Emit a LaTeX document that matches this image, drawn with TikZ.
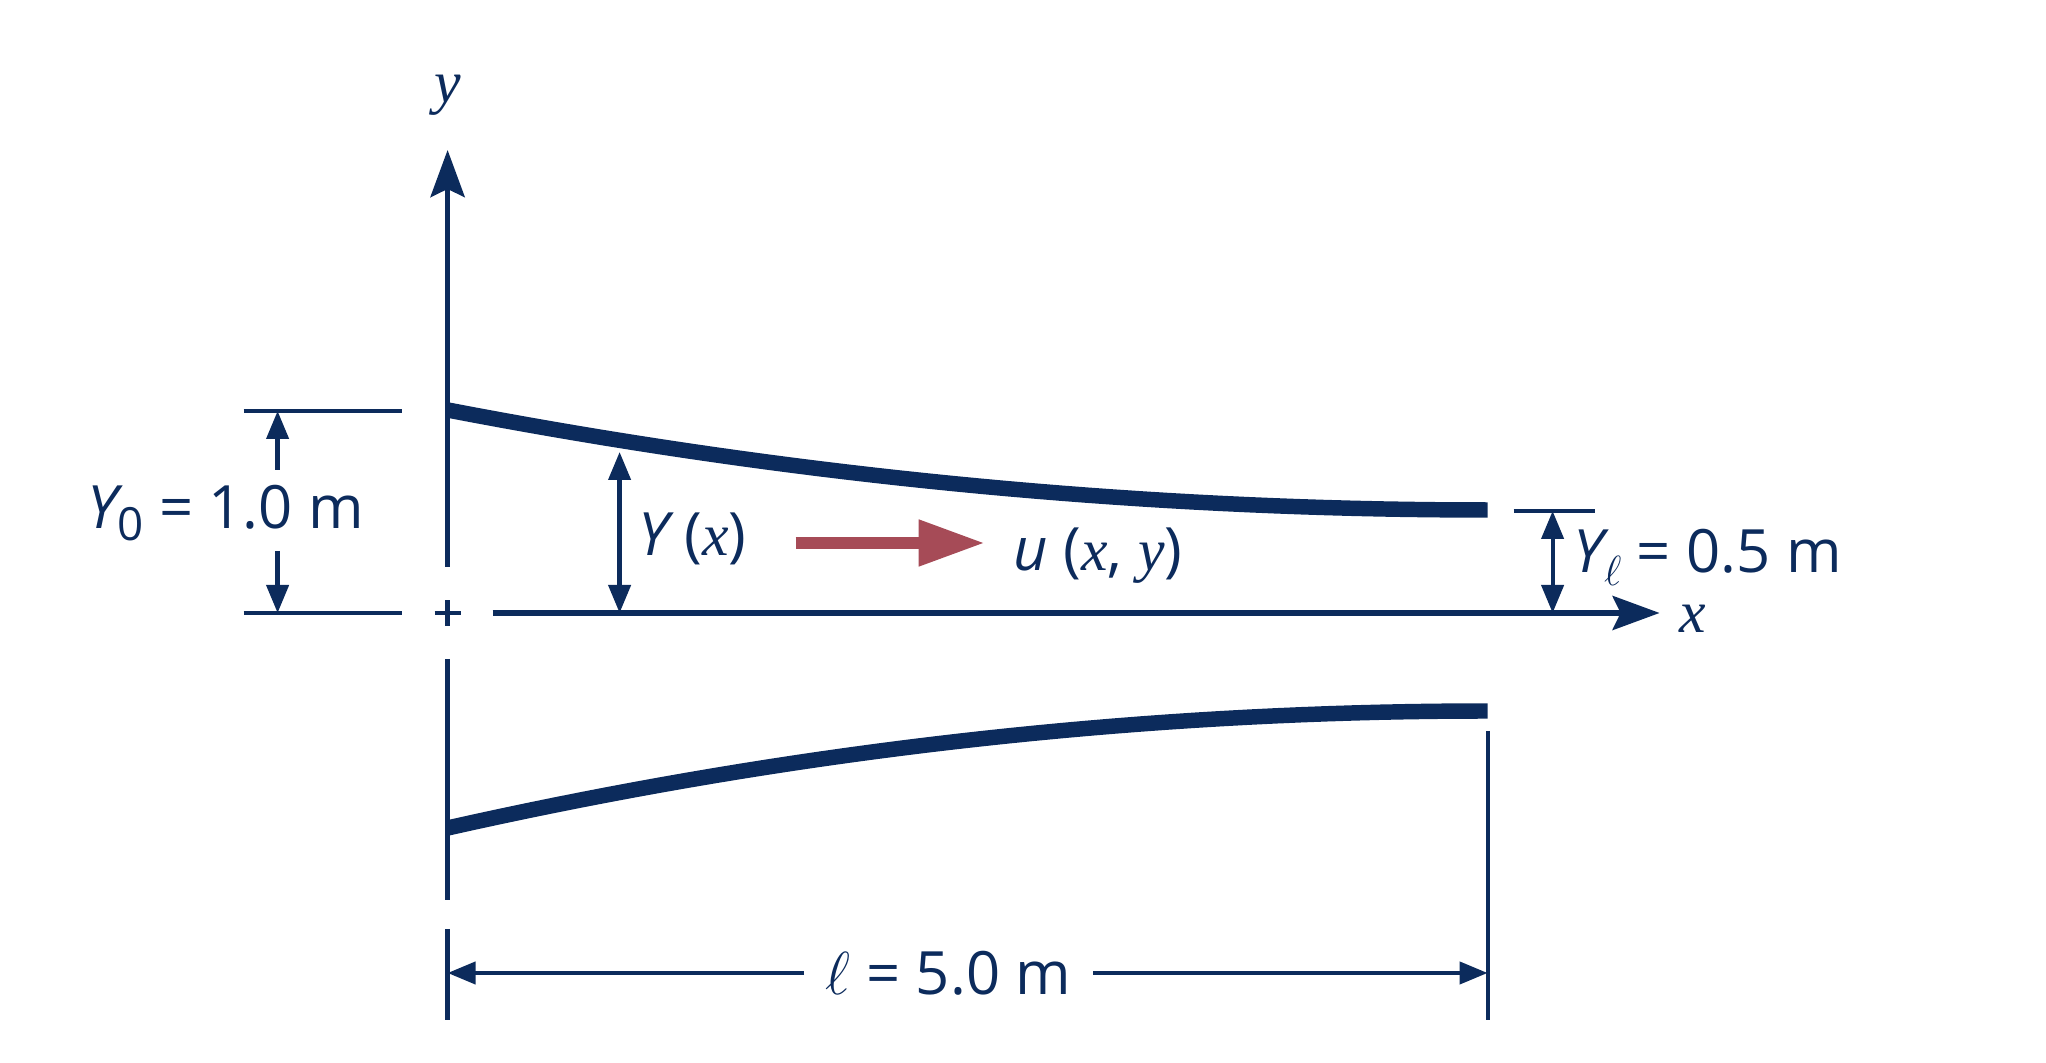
\documentclass[tikz,border=0pt]{standalone}
\usepackage{fontspec}
\setmainfont{Open Sans}
\newfontfamily\varfont{Liberation Serif}
\usetikzlibrary{arrows.meta}
\definecolor{navy}{HTML}{0C2B5C}
\definecolor{flowred}{HTML}{A64B57}
\newcommand{\vx}{{\varfont\itshape x}}
\newcommand{\vy}{{\varfont\itshape y}}
\newcommand{\lowidx}[1]{\raisebox{-0.4ex}{\fontsize{13}{14}\selectfont #1}}
\tikzset{
    dimtip/.tip={Triangle[length=2.8mm,width=2.2mm]},
    axistip/.tip={Stealth[length=4.7mm,width=3.4mm,inset=0.8mm]},
}
\begin{document}
\begin{tikzpicture}[
        every node/.style={text=navy, font=\fontsize{17}{20}\selectfont, inner sep=1pt},
        axis/.style={draw=navy, line width=1.6pt},
        wall/.style={draw=navy, line width=4.4pt},
        dimline/.style={draw=navy, line width=1.2pt},
        thinline/.style={draw=navy, line width=1.2pt},
    ]
    \useasboundingbox (-4.476,-4.50) rectangle (15.984,6.13);
    \begin{scope}
        % axes
        \coordinate (O) at (0,0);
        \coordinate (ybot) at (0,0.46);
        \coordinate (ytop) at (0,4.63);
        \coordinate (xbeg) at (0.45,0);
        \coordinate (xend) at (12.12,0);
        \draw[axis, -{axistip}] (ybot) -- (ytop);
        \draw[axis, -{axistip}] (xbeg) -- (xend);
        \node (ylab) at (0,5.18) {\vy};
        \node (xlab) at (12.45,-0.06) {\vx};
        \draw[thinline] (-0.13,0) -- (0.13,0) (0,-0.13) -- (0,0.13);

        % channel walls
        \draw[wall] plot[domain=0:10.4, samples=40] (\x, {1.03+1.0*(1-\x/10.4)^2});
        \draw[wall] plot[domain=0:10.4, samples=40] (\x, {-0.98-1.17*(1-\x/10.4)^2});

        % extension lines
        \coordinate (la) at (0,-0.46);
        \coordinate (lb) at (0,-2.87);
        \coordinate (lc) at (0,-3.16);
        \coordinate (ld) at (0,-4.07);
        \coordinate (ra) at (10.4,-1.18);
        \coordinate (rb) at (10.4,-4.07);
        \draw[dimline] (la) -- (lb);
        \draw[dimline] (lc) -- (ld);
        \draw[dimline] (ra) -- (rb);

        % Y0
        \coordinate (y0a) at (-2.04,2.02);
        \coordinate (y0b) at (-0.46,2.02);
        \coordinate (y0c) at (-2.04,0);
        \coordinate (y0d) at (-0.46,0);
        \draw[dimline] (y0a) -- (y0b);
        \draw[dimline] (y0c) -- (y0d);
        \node (yzero) at (-2.22,1.0) {{\itshape Y}\lowidx{0} = 1.0 m};
        \draw[thinline, -{dimtip}] (-1.70,1.43) -- (-1.70,2.02);
        \draw[thinline, -{dimtip}] (-1.70,0.62) -- (-1.70,0);

        % Y(x)
        \coordinate (yxtop) at (1.72,1.61);
        \coordinate (yxbot) at (1.72,0);
        \draw[thinline, {dimtip}-{dimtip}] (yxtop) -- (yxbot);
        \node[anchor=west] (yx) at (1.87,0.74) {{\itshape Y} (\vx)};

        % velocity
        \coordinate (ua) at (3.48,0.70);
        \coordinate (ub) at (5.37,0.70);
        \draw[flowred, line width=3.2pt, -{Triangle[length=6.6mm,width=4.4mm]}] (ua) -- (ub);
        \node[anchor=west] (uxy) at (5.62,0.57) {{\itshape u} (\vx, \vy)};

        % Yl
        \coordinate (yla) at (10.66,1.02);
        \coordinate (ylb) at (11.47,1.02);
        \coordinate (ylc) at (11.05,0);
        \draw[dimline] (yla) -- (ylb);
        \draw[thinline, {dimtip}-{dimtip}] (11.05,1.02) -- (ylc);
        \node[anchor=west] (yell) at (11.22,0.56) {{\itshape Y}\lowidx{$\ell$} = 0.5 m};

        % length
        \coordinate (da) at (0,-3.60);
        \coordinate (db) at (10.4,-3.60);
        \node[inner sep=6pt] (ell) at (5.01,-3.60) {$\ell$ = 5.0 m};
        \draw[thinline, -{dimtip}] (ell.west) -- (da);
        \draw[thinline, -{dimtip}] (ell.east) -- (db);
    \end{scope}
\end{tikzpicture}
\end{document}
